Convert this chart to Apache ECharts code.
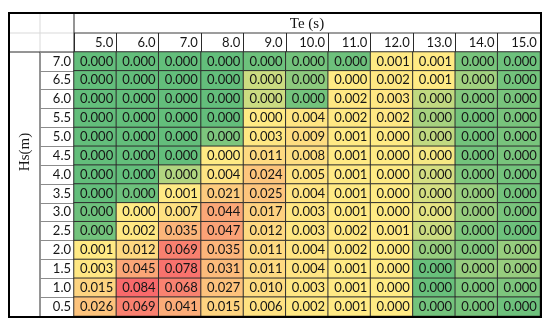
<!DOCTYPE html>
<html>
<head>
<meta charset="utf-8">
<script src="https://cdn.jsdelivr.net/npm/echarts@6/dist/echarts.min.js"></script>
<style>
html,body{margin:0;padding:0;background:#fff;}
#chart{width:550px;height:330px;}
</style>
</head>
<body>
<div id="chart"></div>
<script>
// Column categories: Te (s)
var teLabels = ['5.0','6.0','7.0','8.0','9.0','10.0','11.0','12.0','13.0','14.0','15.0'];
// Row categories: Hs (m), top to bottom
var hsLabels = ['7.0','6.5','6.0','5.5','5.0','4.5','4.0','3.5','3.0','2.5','2.0','1.5','1.0','0.5'];
// Cell values (rows top to bottom). Cells printed as 0.000 carry small estimated
// underlying values read from their shading (all round to 0.000).
var row70 = [0, 0, 0, 0, 0.00002, 0.00003, 0.00002, 0.001, 0.001, 0.00004, 0.00002];
var row65 = [0, 0, 0, 0, 0.0002, 0.00008, 0.0004, 0.002, 0.001, 0.00012, 0.00003];
var row60 = [0, 0, 0, 0, 0.0002, 0.00003, 0.002, 0.003, 0.00018, 0.00006, 0.00004];
var row55 = [0, 0, 0, 0, 0.0004, 0.004, 0.002, 0.002, 0.00013, 0.00003, 0.00004];
var row50 = [0, 0, 0, 0.00005, 0.003, 0.009, 0.001, 0.0004, 0.00018, 0.00003, 0.00004];
var row45 = [0, 0, 0, 0.0004, 0.011, 0.008, 0.001, 0.0004, 0.00028, 0.00003, 0.00004];
var row40 = [0, 0, 0.00015, 0.004, 0.024, 0.005, 0.001, 0.0004, 0.00022, 0.00005, 0.00003];
var row35 = [0, 0.00002, 0.001, 0.021, 0.025, 0.004, 0.001, 0.0004, 0.00022, 0.0001, 0.00003];
var row30 = [0.00002, 0.0004, 0.007, 0.044, 0.017, 0.003, 0.001, 0.0004, 0.00025, 0.0001, 0.00004];
var row25 = [0.00003, 0.002, 0.035, 0.047, 0.012, 0.003, 0.002, 0.001, 0.0002, 0.00005, 0.00002];
var row20 = [0.001, 0.012, 0.069, 0.035, 0.011, 0.004, 0.002, 0.0004, 0.0001, 0.00006, 0.0001];
var row15 = [0.003, 0.045, 0.078, 0.031, 0.011, 0.004, 0.001, 0.0004, 0.00001, 0.0001, 0.0001];
var row10 = [0.015, 0.084, 0.068, 0.027, 0.010, 0.003, 0.001, 0.0004, 0.00001, 0.00005, 0.00005];
var row05 = [0.026, 0.069, 0.041, 0.015, 0.006, 0.002, 0.001, 0.0004, 0.00003, 0.00004, 0.00002];
var rows = [row70,row65,row60,row55,row50,row45,row40,row35,row30,row25,row20,row15,row10,row05];

// Colour scale (green - yellow - red, Excel style)
var cGreen = [99,190,123], cYellow = [255,235,132], cRed = [248,105,107];
var midVal = 0.0003;
var maxVal = 0;
rows.forEach(function(r){ r.forEach(function(v){ if (v > maxVal) maxVal = v; }); });
function lerp(a,b,t){ return [0,1,2].map(function(i){ return Math.round(a[i]+(b[i]-a[i])*t); }); }
function colorFor(v){
  var c;
  if (v <= midVal) c = lerp(cGreen, cYellow, v / midVal);
  else c = lerp(cYellow, cRed, Math.min(1,(v - midVal)/(maxVal - midVal)));
  return 'rgb(' + c.join(',') + ')';
}

var yCats = hsLabels.slice().reverse(); // bottom to top for the axis
var data = [];
rows.forEach(function(r, ri){
  var yi = hsLabels.length - 1 - ri;
  r.forEach(function(v, xi){
    data.push({ value: [xi, yi, v], itemStyle: { color: colorFor(v) } });
  });
});

var numFont = 'Lato';
var txtCol = '#161616';
var G = { left: 74, top: 52, right: 10, bottom: 14 };
var W = 550, H = 330;
var gx1 = G.left, gx2 = W - G.right, gy1 = G.top, gy2 = H - G.bottom;
var frameX = 9, frameY = 13, hdrMid = 33;
var col2 = 40;

var chart = echarts.init(document.getElementById('chart'), null, {renderer:'canvas'});
chart.setOption({
  animation: false,
  backgroundColor: '#fff',
  grid: { left: G.left, top: G.top, right: G.right, bottom: G.bottom },
  xAxis: {
    type: 'category', position: 'top', data: teLabels,
    axisLine: { show: true, lineStyle: { color: '#2a2a2a', width: 1 } },
    axisTick: { show: true, interval: 0, length: gy1 - hdrMid, lineStyle: { color: '#2a2a2a' } },
    axisLabel: {
      interval: 0, margin: 3, color: txtCol, fontFamily: numFont, fontSize: 13,
      formatter: function(v){ return '{a|' + v + '}'; },
      rich: { a: { width: 36, align: 'right', fontFamily: numFont, fontSize: 13, color: txtCol } }
    },
    splitLine: { show: false }
  },
  yAxis: {
    type: 'category', data: yCats,
    axisLine: { show: true, lineStyle: { color: '#2a2a2a', width: 1 } },
    axisTick: { show: true, interval: 0, length: gx1 - col2, lineStyle: { color: '#8c8c8c' } },
    axisLabel: { interval: 0, margin: 3, color: txtCol, fontFamily: numFont, fontSize: 13 },
    splitLine: { show: false }
  },
  series: [{
    type: 'heatmap',
    data: data,
    itemStyle: { borderColor: '#2e2e2e', borderWidth: 1 },
    label: {
      show: true,
      formatter: function(p){ return '{a|' + p.value[2].toFixed(3) + '}'; },
      rich: { a: { width: 36, align: 'right', fontFamily: numFont, fontSize: 13, color: txtCol } }
    },
    emphasis: { disabled: true }
  }],
  graphic: [
    { type: 'line', shape: { x1: gx1, y1: hdrMid, x2: gx2, y2: hdrMid }, style: { stroke: '#3a3a3a', lineWidth: 1 } },
    { type: 'line', shape: { x1: frameX, y1: hdrMid, x2: gx1, y2: hdrMid }, style: { stroke: '#d9d9d9', lineWidth: 1 } },
    { type: 'line', shape: { x1: col2, y1: frameY, x2: col2, y2: gy1 }, style: { stroke: '#d9d9d9', lineWidth: 1 } },
    { type: 'line', shape: { x1: gx1, y1: frameY, x2: gx1, y2: gy1 }, style: { stroke: '#2a2a2a', lineWidth: 1 } },
    { type: 'line', shape: { x1: frameX, y1: gy1, x2: gx1, y2: gy1 }, style: { stroke: '#2a2a2a', lineWidth: 1 } },
    { type: 'line', shape: { x1: col2, y1: gy1, x2: col2, y2: gy2 }, style: { stroke: '#2a2a2a', lineWidth: 1 } },
    { type: 'rect', shape: { x: frameX, y: frameY, width: gx2 - frameX + 1, height: gy2 - frameY + 1 }, style: { fill: 'none', stroke: '#000', lineWidth: 2 }, z: 100 },
    { type: 'text', x: (gx1 + gx2) / 2, y: (frameY + hdrMid) / 2 + 1, style: { text: 'Te (s)', font: '15px "Liberation Serif"', fill: txtCol, textAlign: 'center', textVerticalAlign: 'middle' } },
    { type: 'text', x: (frameX + col2) / 2 + 1, y: 152, rotation: Math.PI / 2, style: { text: 'Hs(m)', font: '15px "Liberation Serif"', fill: txtCol, textAlign: 'center', textVerticalAlign: 'middle' } }
  ]
});
</script>
</body>
</html>
